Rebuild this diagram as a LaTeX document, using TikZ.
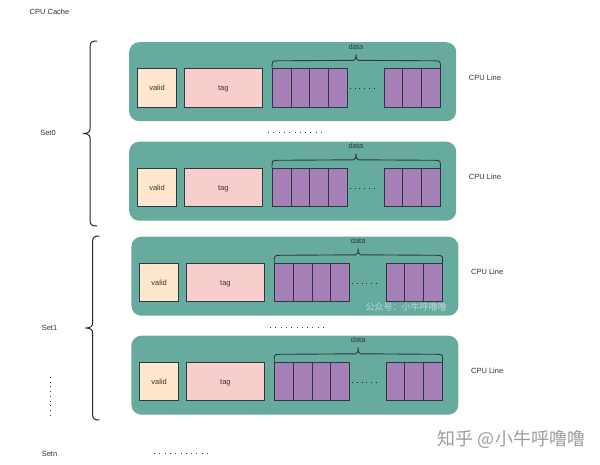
\documentclass[tikz,border=0pt]{standalone}
\usepackage{fontspec}
\setmainfont{Liberation Sans}
\newfontfamily\cjkf{Noto Sans CJK SC}
\usetikzlibrary{positioning,calc}
\definecolor{linegreen}{HTML}{67AB9F}
\definecolor{validc}{HTML}{FFE6CC}
\definecolor{tagc}{HTML}{F8CECC}
\definecolor{cellc}{HTML}{A680B8}
\definecolor{edgec}{HTML}{2B3A40}
\definecolor{txt}{HTML}{333333}
\tikzset{
 x=1pt,y=-1pt,
 linebox/.style={fill=linegreen,draw=none,rounded corners=10pt,minimum width=327pt,minimum height=79pt,anchor=north west,inner sep=0},
 validbox/.style={fill=validc,draw=edgec,line width=1pt,minimum width=39pt,minimum height=38.5pt,anchor=north west,inner sep=0,font=\fontsize{7.5}{8}\selectfont,text=txt},
 tagbox/.style={fill=tagc,draw=edgec,line width=1pt,minimum width=77.5pt,minimum height=38.5pt,anchor=north west,inner sep=0,font=\fontsize{7.5}{8}\selectfont,text=txt},
 cellbox/.style={fill=cellc,draw=edgec,line width=1pt,minimum width=18.67pt,minimum height=38.5pt,anchor=north west,inner sep=0},
 lbl/.style={inner sep=0,font=\fontsize{7.5}{8}\selectfont,text=txt},
 dlbl/.style={inner sep=0,font=\fontsize{7.5}{8}\selectfont,text=edgec},
 dotsline/.style={line width=.9pt,dash pattern=on 1pt off 4.3pt,black!75},
 innerdots/.style={line width=.9pt,dash pattern=on 1pt off 3.7pt,black!85},
 bracel/.style={draw=edgec,line width=.9pt},
 setbrace/.style={draw=black!85,line width=1pt},
}
\newcommand{\cpuline}[3]{% prefix, x, y
 \node[linebox] (#1) at (#2,#3) {};
 \node[validbox,text depth=0pt] (#1v) at ($(#2,#3)+(8,26.3)$) {valid};
 \node[tagbox,text depth=0pt] (#1t) at ($(#2,#3)+(55,26.3)$) {\raisebox{-.6pt}{tag}};
 \node[cellbox] (#1a) at ($(#2,#3)+(143,26.3)$) {};
 \node[cellbox] (#1b) at ($(#2,#3)+(161.67,26.3)$) {};
 \node[cellbox] (#1c) at ($(#2,#3)+(180.33,26.3)$) {};
 \node[cellbox] (#1d) at ($(#2,#3)+(199,26.3)$) {};
 \node[cellbox] (#1e) at ($(#2,#3)+(254.5,26.3)$) {};
 \node[cellbox] (#1f) at ($(#2,#3)+(273.17,26.3)$) {};
 \node[cellbox] (#1g) at ($(#2,#3)+(291.83,26.3)$) {};
 \coordinate (#1p) at ($(#2,#3)+(221,46.7)$);
 \coordinate (#1q) at ($(#2,#3)+(246,46.7)$);
 \draw[innerdots] (#1p) -- (#1q);
 \coordinate (#1tip) at ($(#2,#3)+(227,12)$);
 \draw[bracel] (#1a.north west) .. controls ($(#1a.north west)+(0,-6.5)$) and ($(#1a.north west)+(0,-7.5)$) .. ($(#1a.north west)+(5,-7.5)$)
   -- ($(#1tip)+(-2.5,6.3)$) .. controls ($(#1tip)+(-.5,6.3)$) and ($(#1tip)+(0,4)$) .. (#1tip)
   .. controls ($(#1tip)+(0,4)$) and ($(#1tip)+(.5,6.3)$) .. ($(#1tip)+(2.5,6.3)$)
   -- ($(#1g.north east)+(-5,-7.5)$) .. controls ($(#1g.north east)+(0,-7.5)$) and ($(#1g.north east)+(0,-6.5)$) .. (#1g.north east);
 \node[dlbl] (#1dl) at ($(#2,#3)+(227,4.7)$) {data};
 \node[lbl] (#1cl) at ($(#2,#3)+(356,35.5)$) {CPU Line};
}
\newcommand{\setbrace}[4]{% name, x, ytop, ybot
 \coordinate (#1t) at (#2+7,#3);
 \coordinate (#1b) at (#2+7,#4);
 \coordinate (#1m) at (#2-7,#3/2+#4/2);
 \draw[setbrace] (#1t) .. controls ($(#1t)+(-5,0)$) and ($(#1t)+(-7,1)$) .. ($(#1t)+(-7,6)$)
  -- ($(#1m)+(7,-4)$) .. controls ($(#1m)+(7,-1.5)$) and ($(#1m)+(4,0)$) .. (#1m)
  .. controls ($(#1m)+(4,0)$) and ($(#1m)+(7,1.5)$) .. ($(#1m)+(7,4)$)
  -- ($(#1b)+(-7,-6)$) .. controls ($(#1b)+(-7,-1)$) and ($(#1b)+(-5,0)$) .. (#1b);
}
\begin{document}
\begin{tikzpicture}
\useasboundingbox (0,0) rectangle (600,464);
\fill[white] (0,0) rectangle (600,464);
\node[lbl] (title) at (49.5,12) {CPU Cache};
\cpuline{A}{129}{42}
\cpuline{B}{129}{141.5}
\cpuline{C}{131.2}{236.5}
\cpuline{D}{131.2}{335.5}
\setbrace{S}{90}{41}{226}
\setbrace{T}{92.5}{236}{420}
\node[lbl] (set0) at (48,133) {Set0};
\node[lbl] (set1) at (49.5,328) {Set1};
\node[lbl] (setn) at (49.5,454) {Setn};
\coordinate (ab1) at (268,132); \coordinate (ab2) at (322,132);
\draw[dotsline] (ab1) -- (ab2);
\coordinate (cd1) at (270,327); \coordinate (cd2) at (324,327);
\draw[dotsline] (cd1) -- (cd2);
\coordinate (bt1) at (154,453); \coordinate (bt2) at (208,453);
\draw[dotsline] (bt1) -- (bt2);
\coordinate (vd1) at (50.5,377); \coordinate (vd2) at (50.5,416);
\draw[dotsline,dash pattern=on 1pt off 3.7pt] (vd1) -- (vd2);
\node[inner sep=0,text=white,opacity=.55] (wm1) at (406,307) {\cjkf\fontsize{9}{10}\selectfont 公众号：小牛呼噜噜};
\node[inner sep=0,text=black!38] (wm2) at (511.5,439.5) {\cjkf\fontsize{18}{20}\selectfont 知乎 @小牛呼噜噜};
\end{tikzpicture}
\end{document}
